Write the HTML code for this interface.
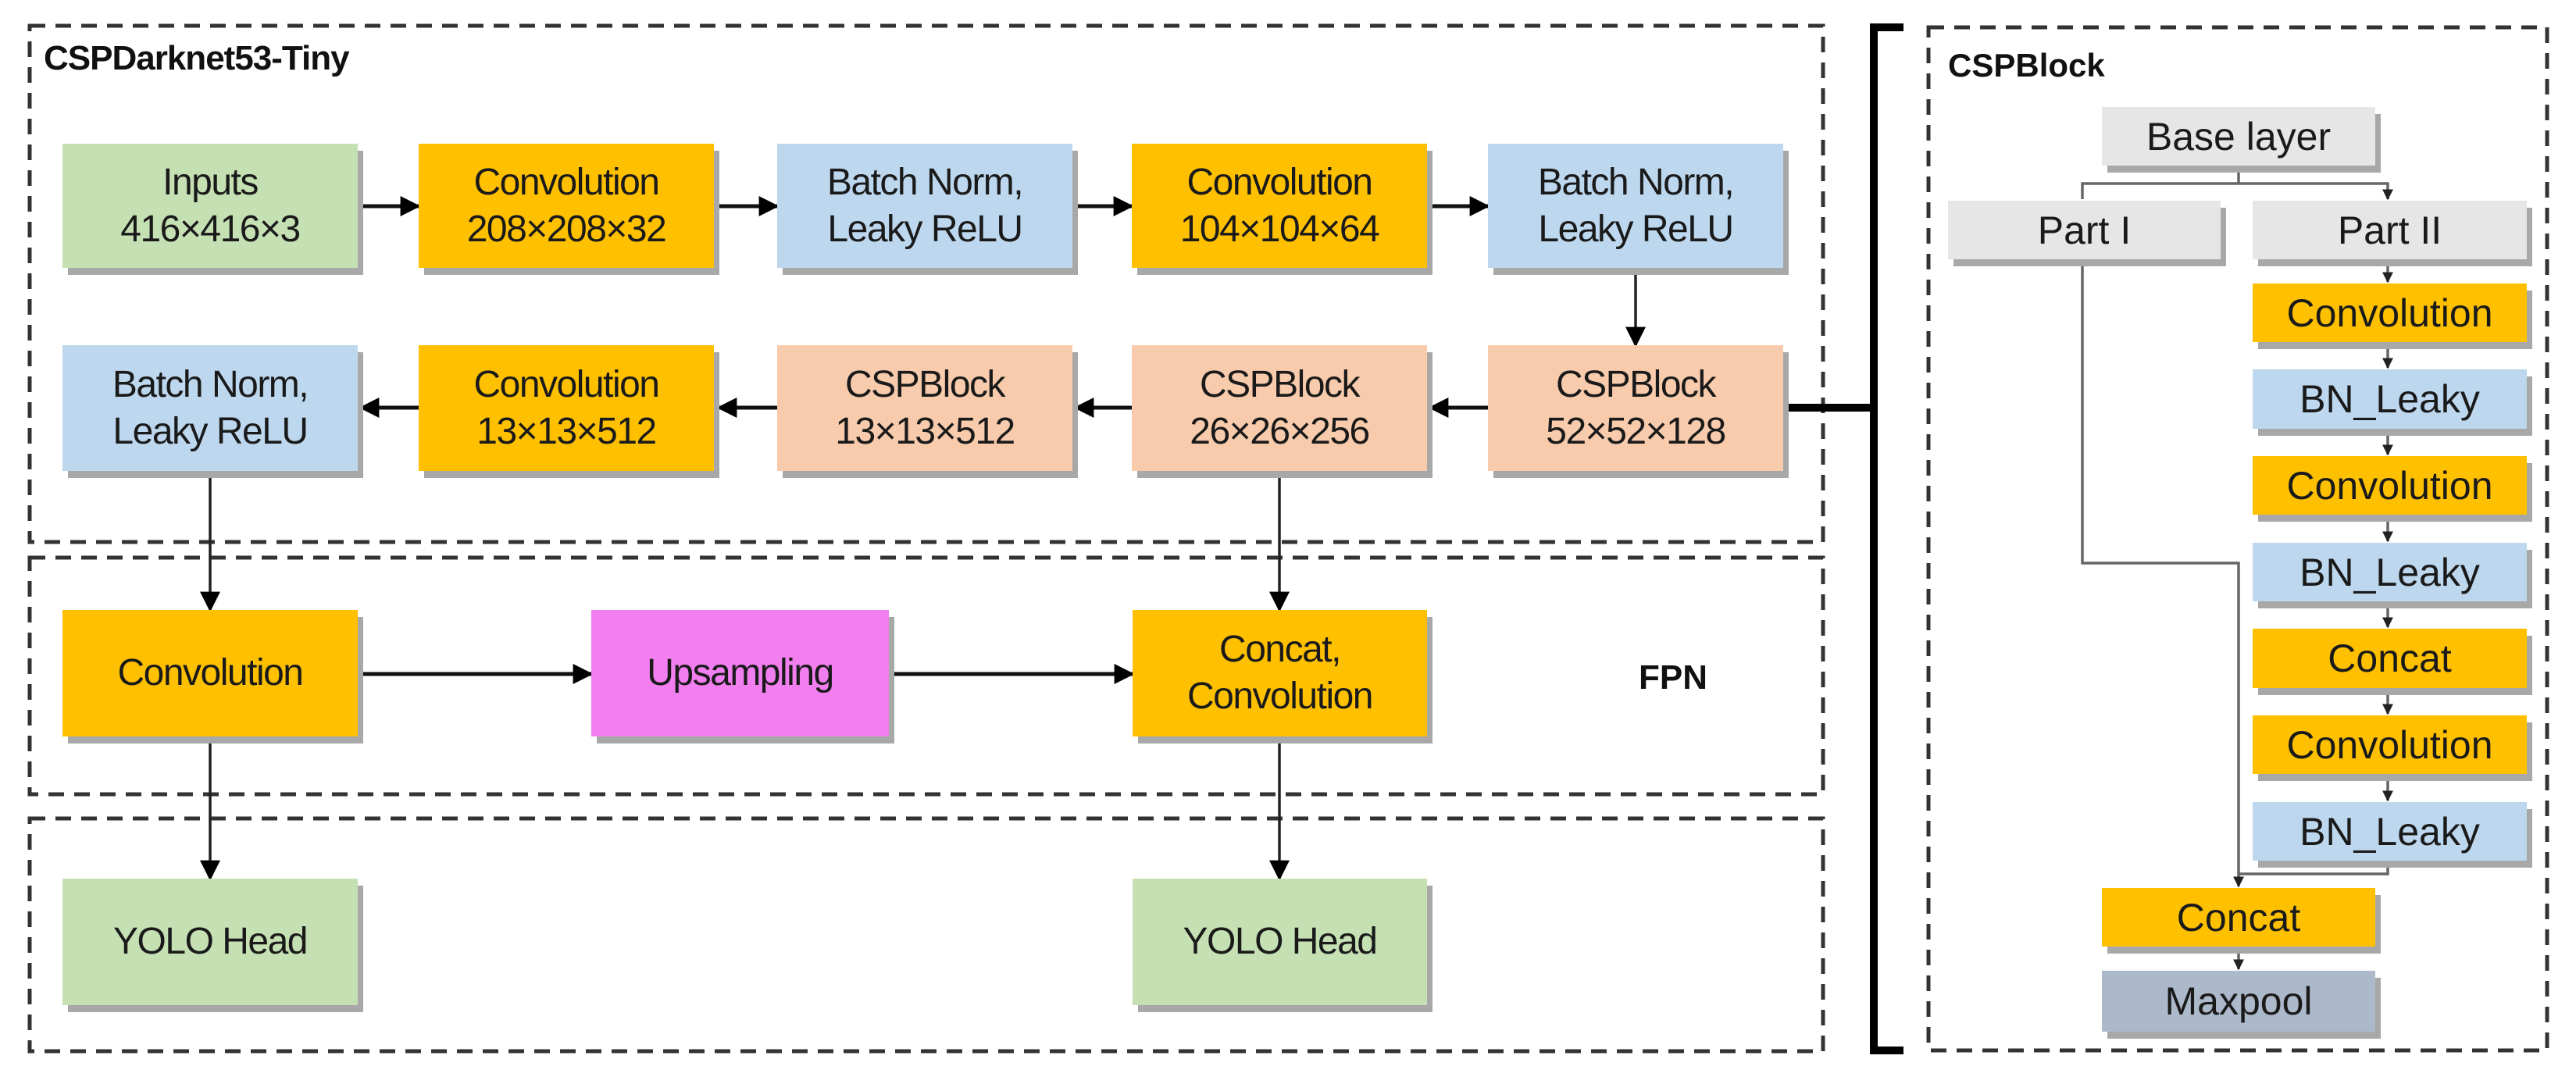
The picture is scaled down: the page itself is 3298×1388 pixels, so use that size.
<!DOCTYPE html>
<html><head><meta charset="utf-8"><style>
body{margin:0;width:3298px;height:1388px;background:#fff;position:relative;overflow:hidden;font-family:"Liberation Sans",Arial,sans-serif}
.b{position:absolute;display:flex;align-items:center;justify-content:center;text-align:center;color:#1a1a1a;font-size:48px;line-height:60px;box-shadow:7px 9px 0 #a8a8a8;letter-spacing:-1.5px}
.s{font-size:50px;line-height:56px;letter-spacing:0}
.g{background:#c5e0b3}.o{background:#ffc000}.u{background:#bdd7ee}.p{background:#f8cbad}.m{background:#f27ff0}.w{background:#e7e6e6}.k{background:#acb9ca}
.t{position:absolute;font-weight:bold;color:#111}
svg{position:absolute;left:0;top:0}
</style></head><body>
<svg width="3298" height="1388">
<defs>
<marker id="A" viewBox="0 0 10 10" refX="9" refY="5" markerWidth="26" markerHeight="26" orient="auto" markerUnits="userSpaceOnUse"><path d="M0,0L10,5L0,10z" fill="#000"/></marker>
<marker id="d" viewBox="0 0 10 10" refX="9" refY="5" markerWidth="14" markerHeight="14" orient="auto" markerUnits="userSpaceOnUse"><path d="M0,0L10,5L0,10z" fill="#222"/></marker></defs>
<g fill="none" stroke="#333" stroke-width="5" stroke-dasharray="20 13">
<rect x="38" y="33" width="2296" height="661"/>
<rect x="38" y="714" width="2296" height="303"/>
<rect x="38" y="1048" width="2296" height="298"/>
<rect x="2469" y="35" width="792" height="1310"/>
</g>
<g stroke="#000" stroke-width="10" fill="none"><path d="M2437,35H2399V1345H2437"/><path d="M2282,522H2399"/></g>
<g stroke="#111" stroke-width="5" marker-end="url(#A)">
<line x1="462" y1="264" x2="536" y2="264"/><line x1="918" y1="264" x2="995" y2="264"/><line x1="1377" y1="264" x2="1449" y2="264"/><line x1="1831" y1="264" x2="1905" y2="264"/>
<line x1="995" y1="522" x2="920" y2="522"/><line x1="1449" y1="522" x2="1377" y2="522"/><line x1="1905" y1="522" x2="1831" y2="522"/><line x1="536" y1="522" x2="462" y2="522"/>
<line x1="462" y1="863" x2="757" y2="863"/><line x1="1142" y1="863" x2="1450" y2="863"/>
</g>
<g stroke="#222" stroke-width="3.5" marker-end="url(#A)">
<line x1="2094" y1="347" x2="2094" y2="442"/>
<line x1="269" y1="607" x2="269" y2="781"/><line x1="1638" y1="607" x2="1638" y2="781"/>
<line x1="269" y1="946" x2="269" y2="1125"/><line x1="1638" y1="946" x2="1638" y2="1125"/>
</g>
<g stroke="#666" stroke-width="3.5" fill="none">
<path d="M2866,215V235H2666V255M2866,235H3057V255" marker-end="url(#d)"/>
<path d="M2666,335V721H2866V1135" marker-end="url(#d)"/>
<path d="M3057,1105V1119H2866"/>
<path d="M2866,1215V1241" marker-end="url(#d)"/>
<path d="M3057,335V361" marker-end="url(#d)"/><path d="M3057,441V471" marker-end="url(#d)"/><path d="M3057,552V582" marker-end="url(#d)"/><path d="M3057,662V693" marker-end="url(#d)"/><path d="M3057,773V803" marker-end="url(#d)"/><path d="M3057,884V914" marker-end="url(#d)"/><path d="M3057,994V1025" marker-end="url(#d)"/>
</g>
</svg>
<div class="t" style="left:56px;top:50px;font-size:44px;letter-spacing:-1px">CSPDarknet53-Tiny</div>
<div class="t" style="left:2494px;top:60px;font-size:42px">CSPBlock</div>
<div class="t" style="left:2098px;top:843px;font-size:44px">FPN</div>

<div class="b g" style="left:80px;top:184px;width:378px;height:159px">Inputs<br>416×416×3</div>
<div class="b o" style="left:536px;top:184px;width:378px;height:159px">Convolution<br>208×208×32</div>
<div class="b u" style="left:995px;top:184px;width:378px;height:159px">Batch Norm,<br>Leaky ReLU</div>
<div class="b o" style="left:1449px;top:184px;width:378px;height:159px">Convolution<br>104×104×64</div>
<div class="b u" style="left:1905px;top:184px;width:378px;height:159px">Batch Norm,<br>Leaky ReLU</div>

<div class="b u" style="left:80px;top:442px;width:378px;height:161px">Batch Norm,<br>Leaky ReLU</div>
<div class="b o" style="left:536px;top:442px;width:378px;height:161px">Convolution<br>13×13×512</div>
<div class="b p" style="left:995px;top:442px;width:378px;height:161px">CSPBlock<br>13×13×512</div>
<div class="b p" style="left:1449px;top:442px;width:378px;height:161px">CSPBlock<br>26×26×256</div>
<div class="b p" style="left:1905px;top:442px;width:378px;height:161px">CSPBlock<br>52×52×128</div>

<div class="b o" style="left:80px;top:781px;width:378px;height:162px">Convolution</div>
<div class="b m" style="left:757px;top:781px;width:381px;height:162px">Upsampling</div>
<div class="b o" style="left:1450px;top:781px;width:377px;height:162px">Concat,<br>Convolution</div>

<div class="b g" style="left:80px;top:1125px;width:378px;height:162px">YOLO Head</div>
<div class="b g" style="left:1450px;top:1125px;width:377px;height:162px">YOLO Head</div>

<div class="b s w" style="left:2691px;top:137px;width:350px;height:75px">Base layer</div>
<div class="b s w" style="left:2494px;top:257px;width:349px;height:75px">Part I</div>
<div class="b s w" style="left:2884px;top:257px;width:351px;height:75px">Part II</div>
<div class="b s o" style="left:2884px;top:363px;width:351px;height:75px">Convolution</div>
<div class="b s u" style="left:2884px;top:473px;width:351px;height:76px">BN_Leaky</div>
<div class="b s o" style="left:2884px;top:584px;width:351px;height:75px">Convolution</div>
<div class="b s u" style="left:2884px;top:695px;width:351px;height:75px">BN_Leaky</div>
<div class="b s o" style="left:2884px;top:805px;width:351px;height:76px">Concat</div>
<div class="b s o" style="left:2884px;top:916px;width:351px;height:75px">Convolution</div>
<div class="b s u" style="left:2884px;top:1027px;width:351px;height:75px">BN_Leaky</div>
<div class="b s o" style="left:2691px;top:1137px;width:350px;height:75px">Concat</div>
<div class="b s k" style="left:2691px;top:1243px;width:350px;height:78px">Maxpool</div>
</body></html>
